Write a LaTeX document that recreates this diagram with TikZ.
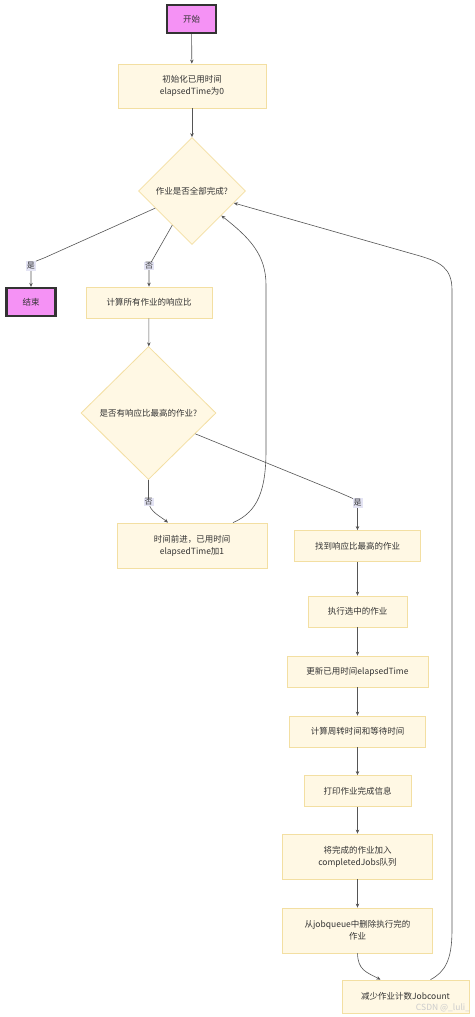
\documentclass[tikz,border=0pt]{standalone}
\usepackage{fontspec}
\setmainfont{Noto Sans CJK SC}
\usepackage{xcolor}
\usepackage{tikz}
\usetikzlibrary{arrows.meta,shapes.geometric,calc}
\definecolor{boxfill}{HTML}{FFF8E4}
\definecolor{boxline}{HTML}{F3DFA2}
\definecolor{termfill}{HTML}{F592F5}
\definecolor{lblfill}{HTML}{E4E4F4}
\definecolor{txt}{HTML}{333333}
\definecolor{wire}{HTML}{555555}
\begin{document}
\begin{tikzpicture}[x=1pt,y=-1pt,
  every node/.style={font=\fontsize{8.5}{12}\selectfont, text=txt},
  proc/.style={draw=boxline, fill=boxfill, line width=0.8pt, align=center, minimum height=31pt, inner sep=2pt},
  term/.style={draw=black!80, fill=termfill, line width=2.2pt, minimum width=49pt, minimum height=28pt},
  cond/.style={diamond, draw=boxline, fill=boxfill, line width=0.8pt, inner sep=0pt},
  lbl/.style={fill=lblfill, inner sep=1pt, font=\fontsize{8}{9}\selectfont},
  flow/.style={draw=wire, line width=0.6pt, -{Stealth[length=4pt,width=3.5pt]}}
]
% page, same size as the screenshot (1pt = 1px)
\fill[white] (0,0) rectangle (474,1017);
\useasboundingbox (0,0) rectangle (474,1017);

% left column
\node[term] (start) at (191.5,19) {开始};
\node[proc, minimum width=148pt, minimum height=44pt] (init) at (192,86) {初始化已用时间\\elapsedTime为0};
\node[cond, minimum width=107pt, minimum height=107pt] (d1) at (192,191) {作业是否全部完成?};
\node[term] (stop) at (31,302) {结束};
\node[proc, minimum width=126pt] (ratio) at (149,302.5) {计算所有作业的响应比};
\node[cond, minimum width=135pt, minimum height=133pt] (d2) at (148.5,413) {是否有响应比最高的作业?};
\node[proc, minimum width=150pt, minimum height=45pt] (tick) at (192,545.5) {时间前进，已用时间\\elapsedTime加1};

% right column
\node[proc, minimum width=126pt] (find) at (357.5,546) {找到响应比最高的作业};
\node[proc, minimum width=99pt] (exec) at (357.5,611.5) {执行选中的作业};
\node[proc, minimum width=141pt] (upd) at (357.5,671.5) {更新已用时间elapsedTime};
\node[proc, minimum width=136pt] (turn) at (357.5,731.5) {计算周转时间和等待时间};
\node[proc, minimum width=107pt] (print) at (357.5,791) {打印作业完成信息};
\node[proc, minimum width=150pt, minimum height=45pt] (enq) at (357.5,856.5) {将完成的作业加入\\completedJobs队列};
\node[proc, minimum width=150pt, minimum height=45pt] (deq) at (357.5,930.5) {从jobqueue中删除执行完的\\作业};
\node[proc, minimum width=127pt, minimum height=33pt] (dec) at (405.5,996.5) {减少作业计数Jobcount};

% connectors
\draw[flow] (start) -- (init);
\draw[flow] (init) -- (d1);
\draw[flow] (d1.205) -- (44,258) .. controls (31,263) .. (31,266) node[lbl] (yes1) {是} -- (stop);
\draw[flow] (d1.240) -- (149,266) node[lbl] (no1) {否} -- (ratio);
\draw[flow] (ratio) -- (d2);
\draw[flow] (d2.south) -- (148.5,502) node[lbl] (no2) {否} .. controls (150,512) and (160,516) .. ($(tick.north)+(-24,0)$);
\draw[flow] (d2.-24) -- (338,492) .. controls (354,499) and (357.5,500) .. (357.5,503) node[lbl] (yes2) {是} -- (find);
\draw[flow] (find) -- (exec);
\draw[flow] (exec) -- (upd);
\draw[flow] (upd) -- (turn);
\draw[flow] (turn) -- (print);
\draw[flow] (print) -- (enq);
\draw[flow] (enq) -- (deq);
\draw[flow] (deq.south) .. controls (358,970) and (366,972) .. ($(dec.north)+(-25,0)$);

% loops back to the first question
\draw[flow] ($(tick.north)+(41,0)$) .. controls (258,512) and (266,490) .. (266,450) -- (266,285) .. controls (266,255) and (250,238) .. (d1.-40);
\draw[flow] ($(dec.north)+(25,0)$) .. controls (445,972) and (452,960) .. (452,930) -- (452,290) .. controls (452,268) and (440,262) .. (420,256) -- (d1.-16);

% watermark
\node[text=gray!40, font=\fontsize{8.5}{9}\selectfont] (mark) at (443,1008) {CSDN @\_luli\_};
\end{tikzpicture}
\end{document}
